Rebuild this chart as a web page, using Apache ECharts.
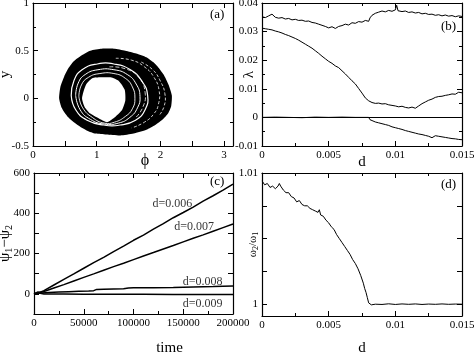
<!DOCTYPE html>
<html>
<head>
<meta charset="utf-8">
<script src="https://cdn.jsdelivr.net/npm/echarts@6/dist/echarts.min.js"></script>
<style>
  html, body { margin: 0; padding: 0; background: #fff; }
  #chart { width: 474px; height: 353px; }
</style>
</head>
<body>
<div id="chart"></div>
<script>
// ---- (a) attractor as [phi, y]
var ringOuter = [[0.41,0],[0.43,0.12],[0.49,0.23],[0.56,0.32],[0.64,0.39],[0.76,0.45],[0.9,0.5],[1.08,0.52],[1.27,0.52],[1.45,0.5],[1.62,0.47],[1.78,0.43],[1.92,0.36],[2.05,0.25],[2.13,0.14],[2.18,0.03],[2.17,-0.08],[2.12,-0.16],[2.04,-0.22],[1.92,-0.28],[1.78,-0.33],[1.58,-0.37],[1.37,-0.39],[1.15,-0.38],[0.98,-0.37],[0.85,-0.34],[0.7,-0.28],[0.54,-0.19],[0.45,-0.1]];
var ringInner = [[0.77,0],[0.83,0.14],[0.93,0.21],[1.06,0.22],[1.22,0.22],[1.35,0.18],[1.44,0.09],[1.45,-0.02],[1.4,-0.12],[1.3,-0.19],[1.16,-0.25],[1.03,-0.21],[0.9,-0.16],[0.81,-0.09]];
// white gaps between the trajectory bands
var gapA = [[0.6,0.03],[0.64,0.18],[0.77,0.3],[1.01,0.36],[1.27,0.36],[1.53,0.3],[1.71,0.18],[1.8,0.03],[1.76,-0.12],[1.61,-0.23],[1.37,-0.28],[1.11,-0.28],[0.85,-0.23],[0.67,-0.12],[0.6,0.03]];
var gapB = [[0.67,0.03],[0.71,0.16],[0.82,0.25],[1.02,0.3],[1.27,0.3],[1.48,0.25],[1.62,0.15],[1.68,0.02],[1.64,-0.1],[1.52,-0.2],[1.34,-0.26],[1.12,-0.27],[0.9,-0.22],[0.74,-0.12],[0.67,0.03]];
var gapC = [[0.72,0.02],[0.76,0.14],[0.87,0.22],[1.05,0.26],[1.27,0.26],[1.45,0.21],[1.56,0.12],[1.6,0],[1.56,-0.11],[1.45,-0.19],[1.28,-0.25],[1.12,-0.26],[0.93,-0.2],[0.78,-0.1],[0.72,0.02]];
var gapD = [[1.3,0.42],[1.55,0.4],[1.75,0.33],[1.9,0.22],[1.98,0.08],[1.97,-0.06],[1.9,-0.16],[1.75,-0.25],[1.55,-0.31]];
var gapE = [[1.7,0.38],[1.88,0.3],[2.0,0.18],[2.07,0.05],[2.06,-0.08],[1.98,-0.18]];
var gapF = [[1.2,0.33],[1.45,0.31],[1.66,0.22],[1.76,0.06],[1.72,-0.1],[1.6,-0.21]];

// ---- (b) Lyapunov exponents vs d
var lam1 = [[0,0.0352],[0.00025,0.0349],[0.0005,0.0355],[0.00075,0.0361],[0.001,0.035],[0.00125,0.0347],[0.0015,0.0349],[0.00175,0.0344],[0.002,0.0346],[0.00225,0.0341],[0.0025,0.0343],[0.00275,0.0339],[0.003,0.034],[0.00325,0.0336],[0.0035,0.0337],[0.00375,0.0332],[0.004,0.033],[0.00425,0.0326],[0.0045,0.0322],[0.00475,0.0318],[0.005,0.0313],[0.00525,0.0317],[0.0055,0.0311],[0.00575,0.0318],[0.006,0.0321],[0.00625,0.0326],[0.0065,0.0323],[0.00675,0.0331],[0.007,0.0329],[0.00725,0.0335],[0.0075,0.0333],[0.00775,0.0339],[0.008,0.0336],[0.0081,0.0348],[0.00825,0.0357],[0.0085,0.0364],[0.00875,0.0368],[0.009,0.0372],[0.00925,0.0369],[0.0095,0.0374],[0.00975,0.0371],[0.01,0.0376],[0.0101,0.0392],[0.0102,0.0373],[0.0105,0.037],[0.01075,0.0372],[0.011,0.0367],[0.01125,0.0369],[0.0115,0.0365],[0.01175,0.0367],[0.012,0.0362],[0.01225,0.0364],[0.0125,0.036],[0.01275,0.0361],[0.013,0.0357],[0.01325,0.0359],[0.0135,0.0355],[0.01375,0.0358],[0.014,0.0354],[0.01425,0.0356],[0.0145,0.0352],[0.01475,0.0355],[0.015,0.0353]];
var lam2 = [[0,0.0312],[0.00025,0.031],[0.0005,0.0308],[0.00075,0.0306],[0.001,0.0302],[0.00125,0.0299],[0.0015,0.0295],[0.00175,0.029],[0.002,0.0286],[0.00225,0.0281],[0.0025,0.0276],[0.00275,0.027],[0.003,0.0263],[0.00325,0.0256],[0.0035,0.0249],[0.00375,0.0242],[0.004,0.0233],[0.00425,0.0224],[0.0045,0.0214],[0.00475,0.0205],[0.005,0.0196],[0.00525,0.0189],[0.0055,0.018],[0.00575,0.0174],[0.006,0.0163],[0.00625,0.0152],[0.0065,0.014],[0.00675,0.0128],[0.007,0.0117],[0.00725,0.0101],[0.0075,0.0085],[0.00775,0.0068],[0.008,0.0058],[0.00825,0.0052],[0.0085,0.0049],[0.00875,0.005],[0.009,0.0047],[0.00925,0.0048],[0.0095,0.0044],[0.00975,0.0042],[0.01,0.004],[0.01025,0.0037],[0.0105,0.0039],[0.01075,0.0035],[0.011,0.0033],[0.01125,0.0036],[0.0115,0.0032],[0.01175,0.004],[0.012,0.0048],[0.01225,0.0054],[0.0125,0.006],[0.01275,0.0064],[0.013,0.007],[0.01325,0.0073],[0.0135,0.0074],[0.01375,0.0077],[0.014,0.0079],[0.01425,0.0082],[0.0145,0.0081],[0.01475,0.0088],[0.015,0.0086]];
var lam3 = [[0,0],[0.001,0.0001],[0.002,0],[0.003,-0.0001],[0.004,0.0001],[0.005,0],[0.006,0.0001],[0.007,0],[0.008,0],[0.0081,-0.0008],[0.00825,-0.0013],[0.0085,-0.0016],[0.00875,-0.0019],[0.009,-0.0022],[0.00925,-0.0025],[0.0095,-0.0028],[0.00975,-0.0033],[0.01,-0.0036],[0.01025,-0.0039],[0.0105,-0.0042],[0.01075,-0.0046],[0.011,-0.0049],[0.01125,-0.0052],[0.0115,-0.0055],[0.01175,-0.0058],[0.012,-0.006],[0.01225,-0.0063],[0.0125,-0.0066],[0.01275,-0.0071],[0.013,-0.0064],[0.01325,-0.0066],[0.0135,-0.0068],[0.01375,-0.007],[0.014,-0.0072],[0.01425,-0.0074],[0.0145,-0.0075],[0.01475,-0.0077],[0.015,-0.0078]];

// ---- (c) phase difference vs time
var psi006 = [[0,0],[5000,6],[10000,16],[20000,44],[30000,72],[40000,99],[50000,127],[60000,155],[70000,181],[80000,210],[90000,237],[100000,266],[110000,292],[120000,321],[130000,349],[140000,378],[150000,404],[160000,431],[170000,460],[180000,487],[190000,515],[200000,545]];
var psi007 = [[0,0],[10000,12],[20000,29],[30000,46],[40000,64],[50000,82],[60000,99],[70000,117],[80000,135],[90000,152],[100000,170],[110000,188],[120000,205],[130000,223],[140000,240],[150000,258],[160000,276],[170000,293],[180000,311],[190000,329],[200000,347]];
var psi008 = [[0,0],[4000,10],[8000,4],[15000,7],[25000,9],[35000,11],[45000,13],[55000,14],[60000,16],[63000,22],[70000,23],[80000,24],[90000,25],[95000,29],[100000,30],[120000,30],[140000,31],[150000,33],[160000,34],[180000,36],[200000,39]];
var psi009 = [[0,0],[5000,4],[10000,-1],[30000,-1],[50000,-2],[80000,-2],[110000,-2],[140000,-3],[170000,-3],[200000,-3]];
var psiLabels = [
  { name: 'd=0.006', value: [139000, 446] },
  { name: 'd=0.007', value: [161000, 333] },
  { name: 'd=0.008', value: [169500, 62] },
  { name: 'd=0.009', value: [169500, -50] }
];

// ---- (d) frequency ratio vs d
var ratio = [[0,1.0094],[0.0002,1.0091],[0.0004,1.0092],[0.0006,1.0089],[0.0008,1.009],[0.001,1.0088],[0.0012,1.009],[0.0013,1.0092],[0.0014,1.009],[0.0016,1.0087],[0.0018,1.0085],[0.002,1.0085],[0.0022,1.0082],[0.0024,1.0081],[0.0026,1.0078],[0.0028,1.0079],[0.003,1.0076],[0.0032,1.0075],[0.0034,1.0075],[0.0036,1.0073],[0.0038,1.0072],[0.004,1.0071],[0.0042,1.007],[0.0043,1.0072],[0.0044,1.0068],[0.0046,1.0067],[0.0048,1.0064],[0.005,1.0062],[0.0052,1.0059],[0.0054,1.0057],[0.0056,1.0053],[0.0058,1.005],[0.006,1.0047],[0.0062,1.0044],[0.0064,1.0041],[0.0066,1.0038],[0.0068,1.0034],[0.007,1.0031],[0.0072,1.0027],[0.0074,1.0022],[0.0076,1.0016],[0.0077,1.0012],[0.0078,1.0009],[0.0079,1.0005],[0.008,1.0001],[0.0082,0.99995],[0.0085,1],[0.009,0.99998],[0.0095,1.00003],[0.01,0.99998],[0.0105,1.00002],[0.011,0.99999],[0.0115,1.00002],[0.012,0.99998],[0.0125,1.00001],[0.013,0.99999],[0.0135,1.00002],[0.014,0.99999],[0.0145,1.00001],[0.015,1]];

var serif = 'Liberation Serif';

// one axis; mirror=true gives the unlabeled opposite side
function axis(gridIndex, position, o, mirror) {
  var a = {
    type: 'value', gridIndex: gridIndex, position: position,
    min: o.min, max: o.max, interval: o.interval,
    axisLine: { show: true, onZero: false, lineStyle: { color: '#000', width: 1.2 } },
    axisTick: { show: true, inside: true, length: 5, lineStyle: { color: '#000' } },
    minorTick: { show: !!o.minor, splitNumber: 2, length: 3, lineStyle: { color: '#000' } },
    axisLabel: { show: !mirror, color: '#000', fontFamily: serif, fontSize: 11, margin: 4 },
    splitLine: { show: false }
  };
  if (o.ticks) a.axisTick.customValues = o.ticks;
  if (o.labels) a.axisLabel.customValues = o.labels;
  if (o.formatter) a.axisLabel.formatter = o.formatter;
  if (!mirror && o.name) {
    a.name = o.name;
    a.nameLocation = 'middle';
    a.nameGap = o.nameGap;
    a.nameMoveOverlap = false;
    a.nameTextStyle = Object.assign({ color: '#000', fontFamily: serif, fontSize: 15 }, o.nameStyle || {});
  }
  return a;
}

var ax = [
  { x: { min: 0, max: 3.14, ticks: [0,0.5,1,1.5,2,2.5,3], labels: [0,1,2,3], name: 'ϕ', nameGap: 7, nameStyle: { fontSize: 16, padding: [0,0,0,24] } },
    y: { min: -0.5, max: 1, interval: 0.5, minor: true, name: 'y', nameGap: 20 } },
  { x: { min: 0, max: 0.015, interval: 0.005, minor: true, name: 'd', nameGap: 9 },
    y: { min: -0.01, max: 0.04, interval: 0.01, minor: true, name: 'λ', nameGap: 5 } },
  { x: { min: 0, max: 200000, interval: 50000, minor: true, formatter: function (v) { return String(v); },
         name: 'time', nameGap: 27, nameStyle: { padding: [0,0,0,72] } },
    y: { min: -100, max: 600, interval: 100, formatter: function (v) { return v % 200 === 0 ? String(v) : ''; },
         name: '{a|ψ}{s|1}{a|−ψ}{s|2}', nameGap: 20,
         nameStyle: { rich: { a: { fontFamily: serif, fontSize: 15, color: '#000', lineHeight: 18 },
                              s: { fontFamily: serif, fontSize: 10, color: '#000', lineHeight: 18, padding: [9,0,0,0] } } } } },
  { x: { min: 0, max: 0.015, interval: 0.005, minor: true, name: 'd', nameGap: 25 },
    y: { min: 0.9991, max: 1.01, ticks: [1,1.0025,1.005,1.0075,1.01], labels: [1,1.01],
         name: '{a|ω}{s|2}{a|/ω}{s|1}', nameGap: 2,
         nameStyle: { rich: { a: { fontFamily: serif, fontSize: 11, color: '#000', lineHeight: 14 },
                              s: { fontFamily: serif, fontSize: 8, color: '#000', lineHeight: 14, padding: [6,0,0,0] } } } } }
];

var xAxes = [], yAxes = [];
ax.forEach(function (p, i) {
  xAxes.push(axis(i, 'bottom', p.x, false), axis(i, 'top', p.x, true));
  yAxes.push(axis(i, 'left', p.y, false), axis(i, 'right', p.y, true));
});

function curve(data, grid, width) {
  return {
    type: 'line', data: data, xAxisIndex: grid * 2, yAxisIndex: grid * 2,
    showSymbol: false, symbol: 'none', silent: true,
    lineStyle: { color: '#000', width: width || 1 }
  };
}

// the filled band of trajectories with its white gaps
function ringRender(params, api) {
  var map = function (pts) { return pts.map(function (p) { return api.coord(p); }); };
  var gap = function (pts, w, dash) {
    return { type: 'polyline', shape: { points: map(pts), smooth: 0.5 },
             style: { stroke: '#fff', lineWidth: w, fill: null, lineDash: dash || null } };
  };
  return {
    type: 'group',
    children: [
      { type: 'polygon', shape: { points: map(ringOuter), smooth: 0.2 }, style: { fill: '#000' } },
      { type: 'polygon', shape: { points: map(ringInner), smooth: 0.2 }, style: { fill: '#fff' } },
      gap(gapA, 1.2), gap(gapB, 1), gap(gapC, 0.9),
      gap(gapD, 0.8, [3, 2]), gap(gapE, 0.8, [3, 2]), gap(gapF, 0.8, [4, 2])
    ]
  };
}

var gridBase = { outerBoundsMode: 'none', containLabel: false };
var chart = echarts.init(document.getElementById('chart'), null, { renderer: 'canvas' });
chart.setOption({
  animation: false,
  backgroundColor: '#fff',
  grid: [
    Object.assign({ left: 33, top: 3, width: 200, height: 143 }, gridBase),
    Object.assign({ left: 262, top: 3, width: 200, height: 143 }, gridBase),
    Object.assign({ left: 34, top: 173, width: 199, height: 141 }, gridBase),
    Object.assign({ left: 262, top: 173, width: 200, height: 143 }, gridBase)
  ],
  xAxis: xAxes,
  yAxis: yAxes,
  graphic: [
    { type: 'text', left: 210, top: 8, style: { text: '(a)', font: '13px "Liberation Serif"', fill: '#000' } },
    { type: 'text', left: 441, top: 20, style: { text: '(b)', font: '13px "Liberation Serif"', fill: '#000' } },
    { type: 'text', left: 210, top: 175, style: { text: '(c)', font: '13px "Liberation Serif"', fill: '#000' } },
    { type: 'text', left: 441, top: 178, style: { text: '(d)', font: '13px "Liberation Serif"', fill: '#000' } }
  ],
  series: [
    { type: 'custom', xAxisIndex: 0, yAxisIndex: 0, silent: true, data: [[1, 0]], renderItem: ringRender },

    curve(lam1, 1),
    curve(lam2, 1),
    Object.assign(curve(lam3, 1), {
      markLine: { silent: true, symbol: 'none', label: { show: false },
                  lineStyle: { color: '#000', width: 1, type: 'solid' }, data: [{ yAxis: 0 }] }
    }),

    curve(psi006, 2, 1.5),
    curve(psi007, 2, 1.5),
    curve(psi008, 2, 1.5),
    curve(psi009, 2, 1.5),
    { type: 'scatter', xAxisIndex: 4, yAxisIndex: 4, silent: true, data: psiLabels, symbolSize: 1,
      itemStyle: { color: 'rgba(0,0,0,0)' },
      label: { show: true, position: 'inside', formatter: function (p) { return p.name; },
               color: '#000', fontFamily: serif, fontSize: 12 } },

    curve(ratio, 3)
  ]
});
</script>
</body>
</html>
